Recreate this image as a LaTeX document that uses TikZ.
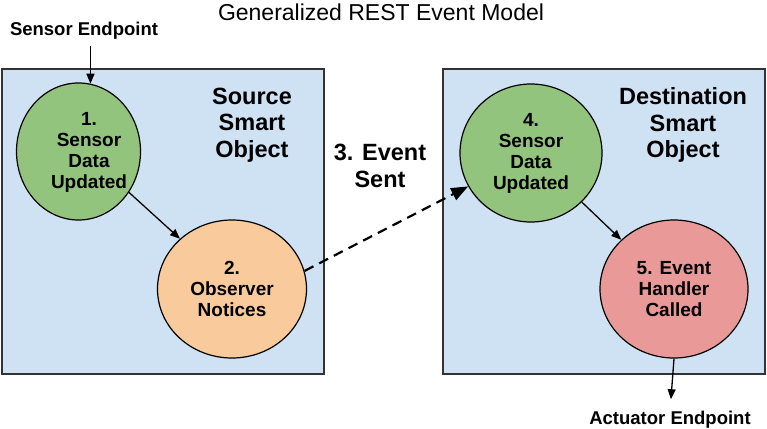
\documentclass[tikz,border=0pt]{standalone}
\usepackage{fontspec}
\setmainfont{Liberation Sans}
\usetikzlibrary{shapes.geometric,arrows.meta}

\definecolor{boxblue}{HTML}{CFE2F3}
\definecolor{stepgreen}{HTML}{93C47D}
\definecolor{steporange}{HTML}{F9CB9C}
\definecolor{stepred}{HTML}{EA9999}
\definecolor{boxline}{HTML}{333333}

\tikzset{
  objbox/.style={draw=boxline,fill=boxblue,line width=1.4pt},
  stepnode/.style={ellipse,draw,line width=1.2pt,align=center,inner sep=0pt,
    font=\fontsize{19}{21}\selectfont\bfseries},
  objlabel/.style={align=center,inner sep=0pt,font=\fontsize{23.5}{26.5}\selectfont\bfseries},
  endlabel/.style={inner sep=0pt,font=\fontsize{18.5}{22}\selectfont\bfseries},
  flow/.style={-{Triangle[length=10pt,width=8pt]},line width=1.3pt},
}

\begin{document}
\begin{tikzpicture}[x=1pt,y=-1pt]
    \useasboundingbox (0,0) rectangle (767,428);
    \node[font=\fontsize{23}{26}\selectfont,inner sep=0pt] (TITLE) at (381,12) {Generalized REST Event Model};

    \draw[objbox] (2,69) rectangle (324,374);
    \draw[objbox] (443,69) rectangle (765,374);

    \node[objlabel] (SRC) at (252,125) {Source\\Smart\\Object};
    \node[objlabel] (DST) at (683,125) {Destination\\Smart\\Object};
    \node[objlabel] (SENT) at (380,166) {3. Event\\Sent};

    \node[stepnode,fill=stepgreen,minimum width=124pt,minimum height=137pt] (UPD) at (78.5,151.5) {};
    \node[stepnode,draw=none] (UPDTXT) at (89,152) {1.\\Sensor\\Data\\Updated};
    \node[stepnode,fill=steporange,minimum width=149pt,minimum height=138pt] (OBS) at (232,289) {2.\\Observer\\Notices};
    \node[stepnode,fill=stepgreen,minimum width=142pt,minimum height=138pt] (RECV) at (531,153) {4.\\Sensor\\Data\\Updated};
    \node[stepnode,fill=stepred,minimum width=148pt,minimum height=138pt] (HAND) at (674,289) {5. Event\\Handler\\Called};

    \node[endlabel] (SENS) at (84,31) {Sensor Endpoint};
    \node[endlabel] (ACT) at (670,420) {Actuator Endpoint};

    \draw[flow,shorten <=6pt] (UPD.80 |- SENS.south) -- (UPD.80);
    \draw[flow] (UPD.-39) -- (OBS.136);
    \draw[-{Triangle[length=17pt,width=13pt]},line width=2.2pt,dash pattern=on 10pt off 6.5pt] (OBS.14) -- (RECV.208);
    \draw[flow] (RECV.-44) -- (HAND.137);
    \draw[flow,shorten >=12pt] (HAND.south) -- (ACT.north);
  \end{tikzpicture}
\end{document}
